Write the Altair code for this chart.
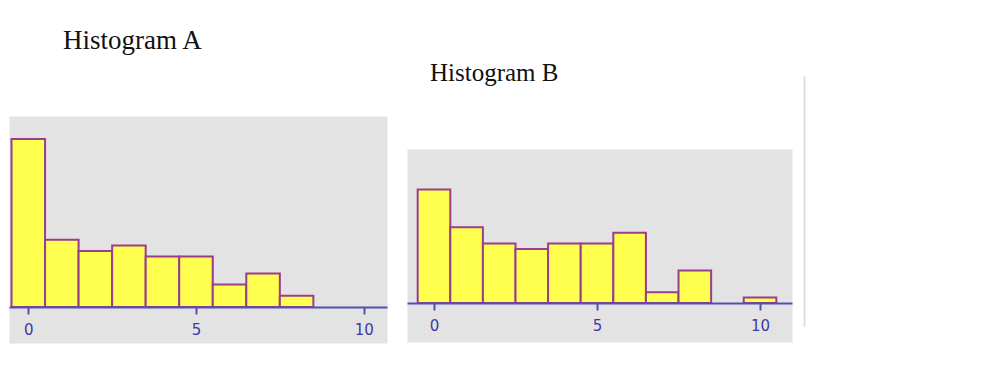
import altair as alt
import pandas as pd

# ---- data ----
bins_a = [0, 1, 2, 3, 4, 5, 6, 7, 8]
counts_a = [30, 12, 10, 11, 9, 9, 4, 6, 2]
bins_b = [0, 1, 2, 3, 4, 5, 6, 7, 8, 9, 10]
counts_b = [21, 14, 11, 10, 11, 11, 13, 2, 6, 0, 1]
tick_values = [0, 5, 10]
title_a = "Histogram A"
title_b = "Histogram B"

GRAY = "#e3e3e3"
FILL = "#ffff50"
STROKE = "#9b3d8e"
BLUE = "#5050b2"
LABEL = "#3b3ba6"


def hist(bins, counts, width, height, xdom, ydom, offset, title, tsize, tdx, toffset):
    df = pd.DataFrame({"bin": bins, "count": counts})
    return (
        alt.Chart(df)
        .transform_filter("datum.count > 0")
        .transform_calculate(lo="datum.bin - 0.5", hi="datum.bin + 0.5")
        .mark_rect(fill=FILL, stroke=STROKE, strokeWidth=2)
        .encode(
            x=alt.X(
                "lo:Q",
                scale=alt.Scale(domain=xdom, nice=False, zero=False),
                axis=alt.Axis(
                    values=tick_values, title=None, grid=False, offset=offset,
                    domainColor=BLUE, domainWidth=2, tickColor=BLUE, tickWidth=2,
                    tickSize=7, labelColor=LABEL, labelFont="DejaVu Sans",
                    labelFontSize=15, labelPadding=8, zindex=1, labelFlush=False,
                    format="d",
                ),
            ),
            x2="hi:Q",
            y=alt.Y("count:Q", scale=alt.Scale(domain=ydom, nice=False, zero=False), axis=None),
            y2=alt.datum(0),
        )
        .properties(
            width=width, height=height,
            view=alt.ViewBackground(fill=GRAY, stroke="transparent"),
            title=alt.TitleParams(
                title, anchor="start", dx=tdx, offset=toffset,
                font="Liberation Serif", fontSize=tsize, fontWeight="normal", color="#111111",
            ),
        )
    )


def spacer(h, w=1, fill="transparent"):
    return (
        alt.Chart(pd.DataFrame({"t": [""]}))
        .mark_text()
        .encode(text="t:N")
        .properties(width=w, height=h, view=alt.ViewBackground(fill=fill, stroke="transparent"))
    )


chart_a = hist(bins_a, counts_a, 378, 227, [-0.575, 10.695], [-6.43, 34.1], -36,
               title_a, 27, 54, 61)
chart_b = hist(bins_b, counts_b, 385, 193, [-0.828, 10.98], [-7.22, 28.5], -39,
               title_b, 25, 23, 63)

col_a = alt.vconcat(spacer(1), chart_a, spacing=0)
col_b = alt.vconcat(spacer(39), chart_b, spacing=0)
col_t = alt.vconcat(spacer(54), spacer(250, 2, "#dedede"), spacing=0)

chart = alt.hconcat(
    col_a,
    alt.hconcat(col_b, col_t, spacing=9),
    spacing=18,
).properties(padding={"left": 0, "top": 6, "right": 5, "bottom": 0})

chart.save("out.html", embed_options={"renderer": "svg", "actions": False})
